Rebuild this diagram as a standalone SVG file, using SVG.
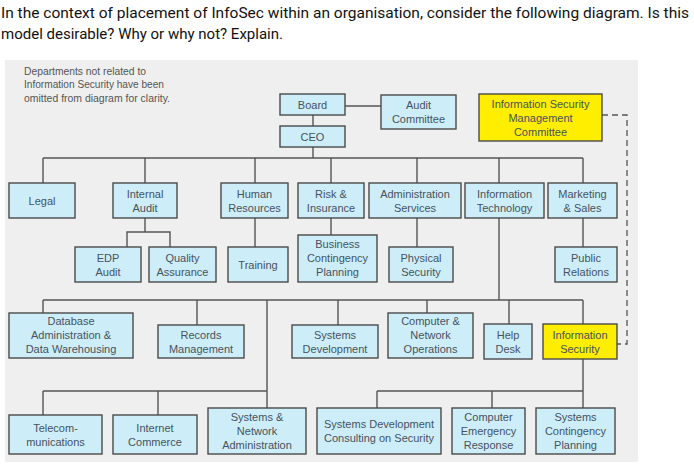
<svg xmlns="http://www.w3.org/2000/svg" width="694" height="475" viewBox="0 0 694 475">
<style>
.q{font-family:Roboto,"Liberation Sans",sans-serif;font-size:15px;fill:#111}
.note{font-family:"Liberation Sans",Arial,sans-serif;font-size:11px;fill:#555}
.b{fill:#cdeef9;stroke:#4a4a4a;stroke-width:1.4}
.y{fill:#ffee00;stroke:#4a4a4a;stroke-width:1.4}
.t{font-family:"Liberation Sans",Arial,sans-serif;font-size:11px;fill:#46525e;text-anchor:middle}
.c{fill:none;stroke:#555;stroke-width:1.4}
.d{fill:none;stroke:#555;stroke-width:1.3;stroke-dasharray:6 4}
</style>
<rect width="694" height="475" fill="#fff"/>
<text class="q" x="1" y="18" textLength="688" lengthAdjust="spacingAndGlyphs">In the context of placement of InfoSec within an organisation, consider the following diagram. Is this</text>
<text class="q" x="1" y="39" textLength="282" lengthAdjust="spacingAndGlyphs">model desirable? Why or why not? Explain.</text>
<rect x="5" y="60" width="633" height="402" fill="#efefef"/>
<g id="note">
<text class="note" x="24" y="75" textLength="122" lengthAdjust="spacingAndGlyphs">Departments not related to</text>
<text class="note" x="24" y="88" textLength="140" lengthAdjust="spacingAndGlyphs">Information Security have been</text>
<text class="note" x="24" y="102" textLength="146" lengthAdjust="spacingAndGlyphs">omitted from diagram for clarity.</text>
</g>
<g id="connectors">
<path class="c" d="M345 106H381M313 115V126M313 147V158M43 158H583M43 158V183M145 158V183M255 158V183M331 158V183M417 158V183M499 158V183M583 158V183"/>
<path class="c" d="M145 218V232M127 247V232H170V247M255 218V247M331 218V235M417 218V247M583 218V247M499 218V300"/>
<path class="c" d="M43 300H583M43 300V313M197 300V325M338 300V325M427 300V313M509 300V324M583 300V324M267 300V408"/>
<path class="c" d="M43 391H267M43 391V415M158 391V415M583 359V408M377 391H583M377 391V408M492 391V408"/>
<path class="d" d="M602 115H627V344H617"/>
</g>
<g id="board"><rect class="b" x="280" y="94" width="65" height="21"/><text class="t" x="312.5" y="108.5">Board</text></g>
<g id="ceo"><rect class="b" x="280" y="126" width="65" height="21"/><text class="t" x="312.5" y="140.5">CEO</text></g>
<g id="audit-committee"><rect class="b" x="381" y="95" width="75" height="34"/><text class="t" x="418.5" y="109">Audit</text><text class="t" x="418.5" y="123">Committee</text></g>
<g id="ismc"><rect class="y" x="479" y="94" width="123" height="47"/><text class="t" x="540.5" y="107.5">Information Security</text><text class="t" x="540.5" y="121.5">Management</text><text class="t" x="540.5" y="135.5">Committee</text></g>
<g id="legal"><rect class="b" x="9" y="183" width="66" height="35"/><text class="t" x="42" y="204.5">Legal</text></g>
<g id="internal-audit"><rect class="b" x="113" y="183" width="64" height="35"/><text class="t" x="145" y="197.5">Internal</text><text class="t" x="145" y="211.5">Audit</text></g>
<g id="hr"><rect class="b" x="221" y="183" width="67" height="35"/><text class="t" x="254.5" y="197.5">Human</text><text class="t" x="254.5" y="211.5">Resources</text></g>
<g id="risk"><rect class="b" x="298" y="183" width="66" height="35"/><text class="t" x="331" y="197.5">Risk &amp;</text><text class="t" x="331" y="211.5">Insurance</text></g>
<g id="admin"><rect class="b" x="369" y="183" width="92" height="35"/><text class="t" x="415" y="197.5">Administration</text><text class="t" x="415" y="211.5">Services</text></g>
<g id="it"><rect class="b" x="465" y="183" width="79" height="35"/><text class="t" x="504.5" y="197.5">Information</text><text class="t" x="504.5" y="211.5">Technology</text></g>
<g id="marketing"><rect class="b" x="548" y="183" width="69" height="35"/><text class="t" x="582.5" y="197.5">Marketing</text><text class="t" x="582.5" y="211.5">&amp; Sales</text></g>
<g id="edp"><rect class="b" x="75" y="247" width="66" height="35"/><text class="t" x="108" y="261.5">EDP</text><text class="t" x="108" y="275.5">Audit</text></g>
<g id="qa"><rect class="b" x="149" y="247" width="67" height="35"/><text class="t" x="182.5" y="261.5">Quality</text><text class="t" x="182.5" y="275.5">Assurance</text></g>
<g id="training"><rect class="b" x="228" y="247" width="60" height="35"/><text class="t" x="258" y="268.5">Training</text></g>
<g id="bcp"><rect class="b" x="298" y="235" width="79" height="47"/><text class="t" x="337.5" y="248">Business</text><text class="t" x="337.5" y="262">Contingency</text><text class="t" x="337.5" y="276">Planning</text></g>
<g id="physical"><rect class="b" x="389" y="247" width="64" height="35"/><text class="t" x="421" y="261.5">Physical</text><text class="t" x="421" y="275.5">Security</text></g>
<g id="pr"><rect class="b" x="555" y="247" width="62" height="35"/><text class="t" x="586" y="261.5">Public</text><text class="t" x="586" y="275.5">Relations</text></g>
<g id="database"><rect class="b" x="9" y="313" width="124" height="45"/><text class="t" x="71" y="325">Database</text><text class="t" x="71" y="339">Administration &amp;</text><text class="t" x="71" y="353">Data Warehousing</text></g>
<g id="records"><rect class="b" x="158" y="325" width="86" height="33"/><text class="t" x="201" y="338.5">Records</text><text class="t" x="201" y="352.5">Management</text></g>
<g id="sysdev"><rect class="b" x="292" y="325" width="86" height="33"/><text class="t" x="335" y="338.5">Systems</text><text class="t" x="335" y="352.5">Development</text></g>
<g id="cno"><rect class="b" x="388" y="313" width="85" height="45"/><text class="t" x="430.5" y="325">Computer &amp;</text><text class="t" x="430.5" y="339">Network</text><text class="t" x="430.5" y="353">Operations</text></g>
<g id="helpdesk"><rect class="b" x="484" y="324" width="48" height="35"/><text class="t" x="508" y="338.5">Help</text><text class="t" x="508" y="352.5">Desk</text></g>
<g id="infosec"><rect class="y" x="543" y="324" width="74" height="35"/><text class="t" x="580" y="338.5">Information</text><text class="t" x="580" y="352.5">Security</text></g>
<g id="telecom"><rect class="b" x="9" y="415" width="93" height="39"/><text class="t" x="55.5" y="432">Telecom-</text><text class="t" x="55.5" y="446">munications</text></g>
<g id="internet"><rect class="b" x="113" y="415" width="84" height="39"/><text class="t" x="155" y="432">Internet</text><text class="t" x="155" y="446">Commerce</text></g>
<g id="sna"><rect class="b" x="208" y="408" width="98" height="46"/><text class="t" x="257" y="421">Systems &amp;</text><text class="t" x="257" y="435">Network</text><text class="t" x="257" y="449">Administration</text></g>
<g id="sdcs"><rect class="b" x="317" y="408" width="124" height="46"/><text class="t" x="379" y="428">Systems Development</text><text class="t" x="379" y="442">Consulting on Security</text></g>
<g id="cer"><rect class="b" x="452" y="408" width="73" height="46"/><text class="t" x="488.5" y="421">Computer</text><text class="t" x="488.5" y="435">Emergency</text><text class="t" x="488.5" y="449">Response</text></g>
<g id="scp"><rect class="b" x="536" y="408" width="79" height="46"/><text class="t" x="575.5" y="421">Systems</text><text class="t" x="575.5" y="435">Contingency</text><text class="t" x="575.5" y="449">Planning</text></g>
</svg>
